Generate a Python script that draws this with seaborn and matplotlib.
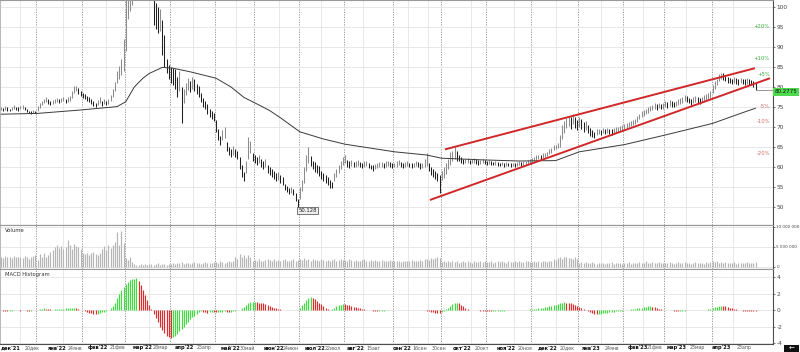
"""
USD/RUB daily bars with moving average, trend channel, volume and MACD histogram.
"""
import numpy as np
import pandas as pd
import matplotlib
matplotlib.use('Agg')
import matplotlib.pyplot as plt
import matplotlib.transforms as mtransforms
from matplotlib.patches import Rectangle
import seaborn as sns

sns.set_style('white')
plt.rcParams['font.family'] = ['DejaVu Sans']

# ── Data (one bar per trading day) ───────────────────────────────────────
month_len = [17, 21, 20, 21, 21, 18, 21, 21, 23, 22, 21, 21, 22, 21, 19, 22, 21]

tick_text = ["дек'21", "20дек", "янв'22", "24янв", "фев'22", "21фев", "мар'22", "28мар",
             "апр'22", "25апр", "май'22", "30май", "июн'22", "24июн", "июл'22", "22июл",
             "авг'22", "15авг", "сен'22", "16сен", "30сен", "окт'22", "20окт", "ноя'22",
             "20ноя", "дек'22", "20дек", "янв'23", "24янв", "фев'23", "21фев", "мар'23",
             "23мар", "апр'23", "23апр"]
tick_bar = [0, 11, 22, 31, 40.5, 50.7, 61.4, 70.7, 81, 91.2, 102, 111.2, 122, 131.2, 141.4,
            150.7, 161, 170.2, 182, 191.2, 200.5, 210.2, 220.5, 230.7, 240.5, 249.8, 260,
            270.2, 281, 291.6, 300.5, 309.8, 320.5, 330.7, 342.3]

lo = [
    # Dec 21
    74.2, 74.0, 74.3, 74.1, 73.9, 74.2, 74.5, 74.3, 74.0, 74.4, 74.6, 74.2, 73.7, 73.4, 73.3, 73.5, 73.4,
    # Jan 22
    74.0, 74.8, 75.4, 76.0, 76.3, 75.8, 75.4, 75.7, 76.0, 76.2, 75.9, 76.2, 76.4, 76.0, 76.3, 76.6, 77.3, 78.6, 78.9, 78.3, 77.7,
    # Feb 22
    77.3, 77.0, 76.5, 76.2, 75.7, 75.2, 74.9, 75.5, 76.0, 75.3, 75.8, 75.4, 75.7, 76.4, 77.5, 79.0, 81.0, 82.0, 83.0, 84.0,
    # Mar 22
    89.0, 97.0, 99.0, 100.5, 108.0, 112.0, 115.0, 113.0, 110.0, 108.0, 105.0, 103.0, 102.0, 95.5, 94.5, 93.5, 94.0, 88.0, 85.0, 83.5, 82.0,
    # Apr 22
    81.0, 80.5, 79.5, 77.5, 79.0, 71.0, 76.0, 78.0, 79.2, 78.8, 79.5, 79.0, 78.3, 77.6, 76.2, 75.0, 74.4, 73.3, 72.5, 72.0, 71.6,
    # May 22
    68.8, 66.8, 65.5, 66.8, 67.3, 64.0, 63.0, 62.6, 63.0, 62.5, 62.0, 59.5, 57.6, 56.5, 58.5, 62.0, 63.5, 61.5,
    # Jun 22
    61.0, 60.5, 61.0, 60.0, 59.6, 60.0, 58.6, 58.0, 57.6, 57.0, 56.6, 56.8, 56.0, 55.6, 54.2, 53.8, 53.3, 53.5, 53.0, 51.5, 49.8,
    # Jul 22
    52.0, 54.0, 56.0, 59.0, 61.0, 60.2, 59.4, 58.8, 58.4, 57.8, 57.0, 56.5, 56.0, 55.5, 54.8, 54.7, 56.4, 57.4, 58.4, 59.4, 60.4,
    # Aug 22
    61.0, 60.0, 59.8, 60.2, 60.0, 59.9, 60.3, 60.1, 59.7, 60.0, 60.2, 59.8, 59.4, 58.9, 59.5, 59.7, 59.9, 60.1, 59.8, 60.0, 60.3, 60.0, 59.8,
    # Sep 22
    59.9, 60.1, 60.4, 60.0, 59.8, 60.1, 60.3, 60.0, 59.7, 59.9, 60.2, 60.0, 59.6, 59.8, 60.0, 60.2, 59.0, 58.0, 57.5, 57.0, 56.5, 53.5,
    # Oct 22
    56.8, 57.2, 58.2, 59.5, 60.5, 61.5, 62.0, 61.5, 61.5, 61.0, 60.8, 60.9, 61.0, 60.7, 60.9, 61.1, 60.8, 60.6, 60.8, 61.0, 60.7,
    # Nov 22
    60.6, 60.8, 60.5, 60.4, 60.6, 60.3, 60.2, 60.4, 60.1, 60.3, 60.2, 60.0, 60.2, 60.1, 60.3, 60.4, 60.2, 60.5, 60.6, 60.7, 61.0,
    # Dec 22
    61.2, 61.6, 61.8, 62.0, 61.9, 62.3, 62.6, 62.8, 63.2, 63.6, 64.2, 64.5, 64.8, 65.0, 67.0, 68.5, 69.8, 70.2, 69.6, 70.8, 69.8, 69.2,
    # Jan 23
    70.0, 69.4, 68.8, 69.2, 68.5, 67.8, 67.4, 67.3, 68.0, 68.2, 68.0, 68.4, 68.2, 68.5, 68.3, 68.1, 68.4, 68.6, 68.8, 69.0, 69.2,
    # Feb 23
    69.4, 69.7, 69.9, 70.2, 70.5, 70.7, 71.3, 71.9, 72.5, 72.8, 73.3, 73.6, 73.9, 74.2, 74.5, 74.3, 74.7, 74.4, 74.6,
    # Mar 23
    75.1, 74.8, 75.3, 75.1, 74.9, 75.2, 75.5, 75.8, 76.1, 76.5, 76.3, 75.9, 75.6, 76.0, 76.3, 76.1, 75.8, 76.2, 76.5, 76.8, 77.1, 77.3,
    # Apr 23
    78.6, 79.6, 80.4, 81.4, 82.0, 81.8, 81.4, 81.0, 80.9, 80.7, 81.0, 80.8, 80.6, 80.9, 80.7, 80.5, 80.8, 80.6, 80.4, 80.1, 79.2,
]

hi = [
    75.0, 74.8, 75.2, 74.9, 74.6, 75.1, 75.4, 75.0, 74.9, 75.3, 75.5, 75.0, 74.4, 74.1, 74.0, 74.3, 74.1,
    75.2, 76.0, 76.6, 77.1, 77.4, 76.9, 76.4, 76.8, 77.1, 77.3, 76.9, 77.2, 77.5, 77.0, 77.4, 77.8, 79.0, 80.2, 80.3, 79.7, 79.0,
    78.5, 78.2, 77.7, 77.4, 76.9, 76.4, 76.0, 76.8, 77.4, 76.5, 77.1, 76.6, 77.0, 78.0, 79.6, 81.3, 84.0, 85.2, 87.0, 92.0,
    104.0, 108.0, 112.0, 118.0, 121.0, 126.0, 131.0, 127.0, 124.0, 120.0, 116.0, 113.0, 109.0, 104.0, 101.0, 100.0, 99.5, 96.7, 93.0, 87.0, 85.5,
    85.0, 84.7, 84.5, 82.5, 84.0, 80.0, 79.5, 81.0, 82.3, 81.5, 82.5, 82.0, 80.8, 80.3, 78.5, 77.3, 76.6, 75.7, 74.6, 74.0, 73.4,
    71.8, 69.5, 67.8, 69.2, 70.0, 66.2, 65.0, 64.4, 65.2, 64.4, 64.0, 62.5, 60.4, 58.8, 61.5, 67.5, 66.5, 63.5,
    63.0, 62.5, 63.0, 62.0, 61.5, 62.0, 60.4, 60.0, 59.4, 59.0, 58.4, 58.8, 58.0, 57.4, 55.8, 55.2, 54.7, 55.0, 54.6, 53.5, 52.0,
    55.0, 56.8, 60.0, 63.0, 65.0, 62.8, 61.6, 61.2, 60.6, 60.2, 59.0, 58.5, 58.0, 57.5, 56.8, 56.3, 58.6, 59.6, 60.6, 61.6, 62.6,
    63.0, 61.8, 61.4, 61.7, 61.3, 61.5, 61.8, 61.2, 61.0, 61.4, 61.6, 61.0, 60.6, 60.4, 60.8, 61.0, 61.2, 61.3, 61.0, 61.4, 61.6, 61.2, 61.0,
    61.1, 61.4, 61.7, 61.2, 61.0, 61.3, 61.5, 61.1, 60.9, 61.1, 61.4, 61.3, 60.9, 61.0, 62.0, 63.5, 61.0, 60.0, 59.5, 59.0, 58.5, 58.0,
    59.0, 60.0, 61.0, 62.0, 63.7, 64.0, 65.0, 64.0, 63.0, 62.5, 62.0, 61.9, 62.2, 61.8, 62.0, 62.2, 61.9, 61.7, 61.8, 62.0, 61.7,
    61.6, 61.7, 61.5, 61.3, 61.5, 61.2, 61.1, 61.3, 61.0, 61.2, 61.0, 60.9, 61.1, 61.0, 61.2, 61.4, 61.2, 61.5, 61.6, 61.8, 62.0,
    62.2, 62.6, 62.9, 63.0, 62.9, 63.4, 63.6, 63.8, 64.4, 64.8, 65.4, 65.6, 66.0, 68.0, 70.5, 71.5, 72.2, 72.8, 72.6, 73.2, 72.4, 71.8,
    72.6, 72.0, 71.2, 71.6, 70.5, 69.8, 69.2, 68.8, 69.4, 69.6, 69.3, 69.7, 69.5, 69.8, 69.6, 69.4, 69.7, 69.9, 70.0, 70.3, 70.5,
    70.7, 71.0, 71.2, 71.5, 71.8, 72.0, 72.7, 73.3, 73.9, 74.2, 74.6, 74.9, 75.3, 75.6, 75.9, 75.7, 76.1, 75.8, 76.0,
    76.5, 76.2, 76.7, 76.5, 76.3, 76.6, 76.9, 77.2, 77.5, 77.9, 77.7, 77.3, 77.0, 77.4, 77.7, 77.5, 77.2, 77.6, 77.9, 78.2, 78.5, 79.0,
    80.4, 81.4, 82.0, 83.2, 83.5, 83.4, 83.0, 82.6, 82.3, 82.1, 82.4, 82.2, 82.0, 82.3, 82.1, 81.9, 82.2, 82.0, 81.8, 81.5, 81.0,
]

# volume, millions
vol = [
    2.5, 2.3, 2.7, 2.4, 2.6, 2.2, 2.8, 2.5, 2.4, 2.6, 2.3, 2.7, 2.5, 2.1, 2.4, 2.8, 3.0,
    1.8, 3.2, 2.6, 3.5, 2.4, 3.0, 3.8, 4.2, 5.0, 5.6, 4.8, 5.3, 4.5, 4.9, 6.8, 5.4, 4.6, 5.8, 5.2, 4.9, 4.4,
    3.6, 3.2, 3.5, 3.0, 3.4, 3.8, 3.3, 3.1, 3.6, 4.6, 5.2, 4.2, 5.5, 4.8, 5.6, 6.2, 8.8, 5.4, 9.0, 6.0,
    2.2, 1.8, 2.4, 1.2, 0.7, 0.6, 0.6, 0.8, 0.5, 0.7, 0.6, 0.7, 0.8, 0.6, 0.7, 0.9, 0.6, 0.7, 0.8, 0.6, 0.7,
    0.8, 1.0, 0.7, 1.1, 0.9, 1.2, 0.8, 0.9, 1.1, 0.8, 1.0, 1.2, 0.9, 1.1, 0.8, 1.0, 1.2, 0.9, 1.1, 1.0, 1.2,
    1.3, 1.1, 1.4, 1.2, 1.0, 1.3, 1.5, 1.2, 1.4, 2.4, 2.0, 3.3, 2.6, 2.9, 2.2, 3.0, 2.4, 1.6,
    1.8, 1.5, 1.9, 1.6, 1.4, 1.8, 2.0, 1.7, 1.5, 1.9, 1.6, 1.8, 1.4, 1.7, 2.0, 1.6, 1.5, 1.8, 1.9, 1.6, 1.7,
    2.0, 1.7, 2.2, 1.8, 1.9, 1.6, 2.0, 1.7, 1.8, 1.5, 1.9, 1.7, 1.6, 1.8, 1.5, 1.7, 1.9, 1.6, 1.8, 2.0, 1.7,
    1.8, 1.6, 1.9, 1.7, 1.5, 1.8, 1.6, 1.4, 1.7, 1.9, 1.5, 1.6, 1.8, 1.4, 1.7, 1.5, 1.6, 1.8, 1.4, 1.6, 1.5, 1.7, 1.4,
    1.5, 1.4, 1.6, 1.3, 1.5, 1.4, 1.6, 1.5, 1.7, 1.4, 1.6, 1.5, 1.8, 1.5, 1.9, 2.1, 1.8, 2.3, 2.0, 2.2, 2.4, 2.3,
    1.3, 1.5, 1.2, 1.4, 1.3, 1.5, 1.2, 1.4, 1.1, 1.3, 1.5, 1.2, 1.4, 1.3, 1.1, 1.4, 1.2, 1.3, 1.5, 1.2, 1.4,
    1.3, 1.2, 1.4, 1.1, 1.3, 1.5, 1.2, 1.4, 1.3, 1.1, 1.4, 1.2, 1.3, 1.5, 1.2, 1.4, 1.3, 1.2, 1.5, 1.4, 1.3,
    1.3, 1.4, 1.2, 1.5, 1.3, 1.4, 1.6, 1.3, 1.5, 1.4, 2.0, 1.8, 2.2, 2.5, 2.1, 2.4, 2.6, 2.2, 2.3, 2.0, 2.4, 1.9,
    0.9, 1.2, 1.0, 1.3, 1.1, 0.9, 1.2, 1.0, 0.8, 1.1, 0.9, 1.0, 0.8, 1.1, 0.9, 1.2, 0.8, 1.0, 0.9, 1.1, 0.8,
    1.0, 0.9, 1.2, 0.8, 1.1, 1.0, 0.9, 1.3, 1.1, 1.0, 1.4, 0.9, 1.1, 1.2, 0.9, 1.0, 1.3, 1.1, 0.9,
    1.1, 0.9, 1.2, 1.0, 0.8, 1.1, 1.3, 0.9, 1.0, 1.2, 0.9, 1.1, 0.8, 1.0, 1.2, 0.9, 1.1, 1.0, 0.8, 1.2, 1.0, 1.3,
    1.4, 1.2, 1.5, 1.1, 1.3, 1.0, 1.2, 0.9, 1.1, 1.0, 1.2, 0.8, 1.0, 1.1, 0.9, 1.0, 1.2, 0.9, 1.0, 1.1, 1.2,
]

macd = [
    -0.05, -0.06, -0.08, -0.1, -0.08, -0.06, -0.05, -0.04, -0.05, -0.06, -0.05, -0.04, -0.06, -0.08, -0.07, -0.05, -0.02,
    0.05, 0.1, 0.15, 0.2, 0.18, 0.12, 0.08, 0.06, 0.08, 0.1, 0.12, 0.15, 0.18, 0.2, 0.22, 0.25, 0.28, 0.3, 0.25, 0.15, 0.05,
    -0.05, -0.15, -0.25, -0.35, -0.42, -0.48, -0.5, -0.45, -0.38, -0.3, -0.22, -0.12, -0.02, 0.2, 0.5, 0.9, 1.4, 1.9, 2.4, 2.8,
    3.1, 3.4, 3.6, 3.7, 3.8, 3.85, 3.5, 3.0, 2.4, 1.8, 1.2, 0.6, 0.1, -0.5, -1.0, -1.5, -2.0, -2.4, -2.8, -3.1, -3.3,
    -3.4, -3.3, -3.1, -2.9, -2.6, -2.3, -2.0, -1.7, -1.4, -1.1, -0.9, -0.7, -0.5, -0.3, -0.15, -0.2, -0.3, -0.35, -0.3, -0.2, -0.25,
    -0.3, -0.3, -0.25, -0.2, -0.15, -0.2, -0.25, -0.2, -0.15, -0.1, -0.05, 0.0, 0.2, 0.4, 0.6, 0.8, 0.95, 1.0,
    1.0, 0.95, 0.9, 0.85, 0.8, 0.7, 0.6, 0.5, 0.4, 0.3, 0.2, 0.15, 0.1, 0.05, 0.02, 0.0, -0.02, 0.0, 0.02, 0.0, 0.05,
    0.3, 0.6, 0.9, 1.2, 1.45, 1.6, 1.5, 1.3, 1.1, 0.9, 0.7, 0.5, 0.3, 0.1, 0.05, 0.15, 0.3, 0.45, 0.6, 0.65, 0.7,
    0.68, 0.62, 0.55, 0.5, 0.42, 0.35, 0.3, 0.22, 0.15, 0.1, 0.05, 0.0, -0.05, -0.08, -0.1, -0.12, -0.1, -0.08, -0.06, -0.05, -0.05, -0.03, -0.02,
    0.0, 0.0, 0.02, 0.02, 0.03, 0.02, 0.01, 0.0, -0.01, -0.02, 0.0, 0.01, 0.0, -0.02, -0.05, -0.1, -0.18, -0.25, -0.3, -0.35, -0.38, -0.4,
    -0.3, -0.1, 0.1, 0.3, 0.5, 0.7, 0.85, 0.9, 0.8, 0.6, 0.45, 0.3, 0.15, 0.05, 0.0, -0.02, -0.04, -0.05, -0.06, -0.08, -0.1,
    -0.12, -0.14, -0.15, -0.15, -0.14, -0.12, -0.1, -0.08, -0.06, -0.04, -0.02, 0.0, 0.02, 0.03, 0.04, 0.05, 0.05, 0.06, 0.05, 0.06, 0.08,
    0.1, 0.12, 0.15, 0.2, 0.25, 0.3, 0.35, 0.4, 0.45, 0.5, 0.55, 0.6, 0.7, 0.8, 0.9, 0.95, 0.9, 0.85, 0.8, 0.7, 0.6, 0.5,
    0.38, 0.25, 0.12, 0.0, -0.15, -0.3, -0.4, -0.48, -0.5, -0.48, -0.45, -0.42, -0.38, -0.34, -0.3, -0.26, -0.22, -0.18, -0.14, -0.1, -0.06,
    -0.02, 0.02, 0.06, 0.1, 0.14, 0.18, 0.22, 0.26, 0.3, 0.35, 0.4, 0.45, 0.48, 0.42, 0.34, 0.25, 0.16, 0.08, 0.02,
    0.0, -0.02, -0.04, -0.05, -0.06, -0.07, -0.08, -0.08, -0.07, -0.06, -0.05, -0.04, -0.03, -0.02, -0.01, 0.0, 0.0, 0.01, 0.02, 0.03, 0.08, 0.15,
    0.25, 0.35, 0.42, 0.48, 0.5, 0.48, 0.44, 0.38, 0.3, 0.22, 0.15, 0.08, 0.02, -0.02, -0.06, -0.08, -0.1, -0.12, -0.14, -0.15, -0.18,
]

# moving average, read at a few bars
ma_bar = [0, 17, 37, 46, 54, 58, 62, 66, 69, 75, 80, 88, 100, 107, 113, 120, 125, 130, 139,
          150, 160, 183, 198, 205, 223, 241, 258, 269, 290, 309, 331, 344, 351]
ma_val = [73.2, 73.4, 74.25, 74.7, 75.1, 76.3, 80.0, 82.2, 83.4, 84.9, 84.7, 83.8, 82.2, 80.0,
          77.4, 75.5, 74.1, 72.3, 68.8, 67.0, 65.7, 63.8, 63.0, 62.2, 61.8, 61.5, 61.6, 63.8,
          65.6, 68.0, 70.9, 73.4, 74.7]

# trend channel (bar, price) end points
chan_top = [(206.5, 64.4), (350.7, 84.7)]
chan_bot = [(199.5, 51.75), (357.7, 82.2)]

low_text = "50.128"
last_text = "80.2775"
pct_levels = [20, 10, 5, -5, -10, -20]

# ── Frame ─────────────────────────────────────────────────────────────────
df = pd.DataFrame({'lo': lo, 'hi': hi, 'vol': vol, 'macd': macd})
df['bar'] = np.arange(len(df))
mid = (df['hi'] + df['lo']) / 2
df['up'] = mid >= mid.shift(1).fillna(mid.iloc[0])
df['rise'] = df['macd'] >= df['macd'].shift(1).fillna(0)

month_start = np.cumsum(month_len)[:-1]
minor_bar = [b for b, t in zip(tick_bar, tick_text) if "'" not in t]
last = df['lo'].iloc[-1]

XMIN, XMAX = -0.47, 359.1
GRID = '#e4e4e4'
DASH = '#8a8a8a'

fig = plt.figure(figsize=(8, 3.52), dpi=100)
ax = fig.add_axes([0, 1 - 225 / 352, 773 / 800, 225 / 352])
ax_v = fig.add_axes([0, 1 - 269 / 352, 773 / 800, 44 / 352])
ax_m = fig.add_axes([0, 1 - 344 / 352, 773 / 800, 75 / 352])

for a in (ax, ax_v, ax_m):
    a.set_xlim(XMIN, XMAX)
    a.set_xticks([])
    for x in month_start:
        a.axvline(x - 0.5, color=DASH, lw=0.6, ls=(0, (1.5, 1.5)), zorder=0)
    for x in minor_bar:
        a.axvline(x - 2, color=GRID, lw=0.6, zorder=0)
    a.yaxis.tick_right()
    a.tick_params(axis='y', length=1.5, width=0.5, pad=1.0, labelsize=4.2,
                  colors='#444444')
    for s in a.spines.values():
        s.set_color('#4d4d4d')
        s.set_linewidth(0.8)
    a.spines['left'].set_color('#bbbbbb')
    a.spines['top'].set_color('#999999')

# ── Price panel ───────────────────────────────────────────────────────────
ax.set_ylim(45.5, 101.75)
ax.set_yticks(np.arange(50, 101, 5))
ax.set_yticklabels([f"{v:d}" for v in range(50, 101, 5)])
for y in range(50, 101, 5):
    ax.axhline(y, color=GRID, lw=0.6, zorder=0)

colors = np.where(df['up'], '#8c8c8c', '#202020')
ax.vlines(df['bar'], df['lo'], df['hi'], colors=colors, lw=0.75, zorder=2)
sns.lineplot(x=ma_bar, y=ma_val, ax=ax, color='#3a3a3a', lw=0.7, zorder=3)

for pts in (chan_top, chan_bot):
    ax.plot([p[0] for p in pts], [p[1] for p in pts], color='#d02828', lw=1.4,
            solid_capstyle='butt', zorder=4)

# last price line and badge
ax.hlines(last, df['bar'].iloc[-1], XMAX, color='#888888', lw=0.6, zorder=3)
ax.annotate(last_text, xy=(1.0, last), xycoords=('axes fraction', 'data'),
            xytext=(1.2, -1.2), textcoords='offset points', ha='left', va='center',
            fontsize=4.0, color='#111111', annotation_clip=False, zorder=10,
            bbox=dict(boxstyle='square,pad=0.3', fc='#4fd94f', ec='none'))

for p in pct_levels:
    ax.text(357.6, last * (1 + p / 100), f"{p:+d}%", ha='right', va='center',
            fontsize=3.8, color='#3fae3f' if p > 0 else '#d26a6a')

# minimum label
i_min = int(df['lo'].idxmin())
ax.text(i_min + 0.3, df['lo'].min() - 0.15, low_text, ha='left', va='top',
        fontsize=3.8, color='#222222',
        bbox=dict(boxstyle='square,pad=0.2', fc='#eeeeee', ec='#444444', lw=0.5))

# ── Volume panel ──────────────────────────────────────────────────────────
ax_v.set_ylim(-0.5, 10.5)
ax_v.set_yticks([0, 5, 10])
ax_v.set_yticklabels(['0', '5 000 000', '10 000 000'], fontsize=3.0)
for y in (0, 5, 10):
    ax_v.axhline(y, color=GRID, lw=0.6, zorder=0)
ax_v.vlines(df['bar'], 0, df['vol'], color='#b5b5b5', lw=0.85, zorder=2)
ax_v.text(0.006, 0.93, 'Volume', transform=ax_v.transAxes, fontsize=3.8,
          color='#333333', va='top')

# ── MACD panel ────────────────────────────────────────────────────────────
ax_m.set_ylim(-4.12, 4.97)
ax_m.set_yticks([-4, -2, 0, 2, 4])
ax_m.set_yticklabels(['-4', '-2', '0', '2', '4'])
for y in (-4, -2, 0, 2, 4):
    ax_m.axhline(y, color=GRID, lw=0.6, zorder=0)
ax_m.vlines(df['bar'], 0, df['macd'],
            colors=np.where(df['rise'], '#3fdc3f', '#dc2c2c'), lw=0.85, zorder=2)
ax_m.text(0.006, 0.96, 'MACD Histogram', transform=ax_m.transAxes, fontsize=3.8,
          color='#333333', va='top')

# x labels under the bottom panel
trans = mtransforms.blended_transform_factory(ax_m.transData, ax_m.transAxes)
for x, t in zip(tick_bar, tick_text):
    major = "'" in t
    ax_m.text(x, -0.02, t, transform=trans, ha='left', va='top',
              fontsize=3.7 if major else 3.4, fontweight='bold' if major else 'normal',
              color='#111111' if major else '#555555', clip_on=False)

# scroll button bottom right
fig.patches.append(Rectangle((784 / 800, 0), 15 / 800, 7 / 352, transform=fig.transFigure,
                             fc='#111111', ec='none'))
fig.text(791.5 / 800, 3.5 / 352, '←', ha='center', va='center', fontsize=5,
         color='white')

fig.savefig('out.png', dpi=100)
plt.close(fig)
